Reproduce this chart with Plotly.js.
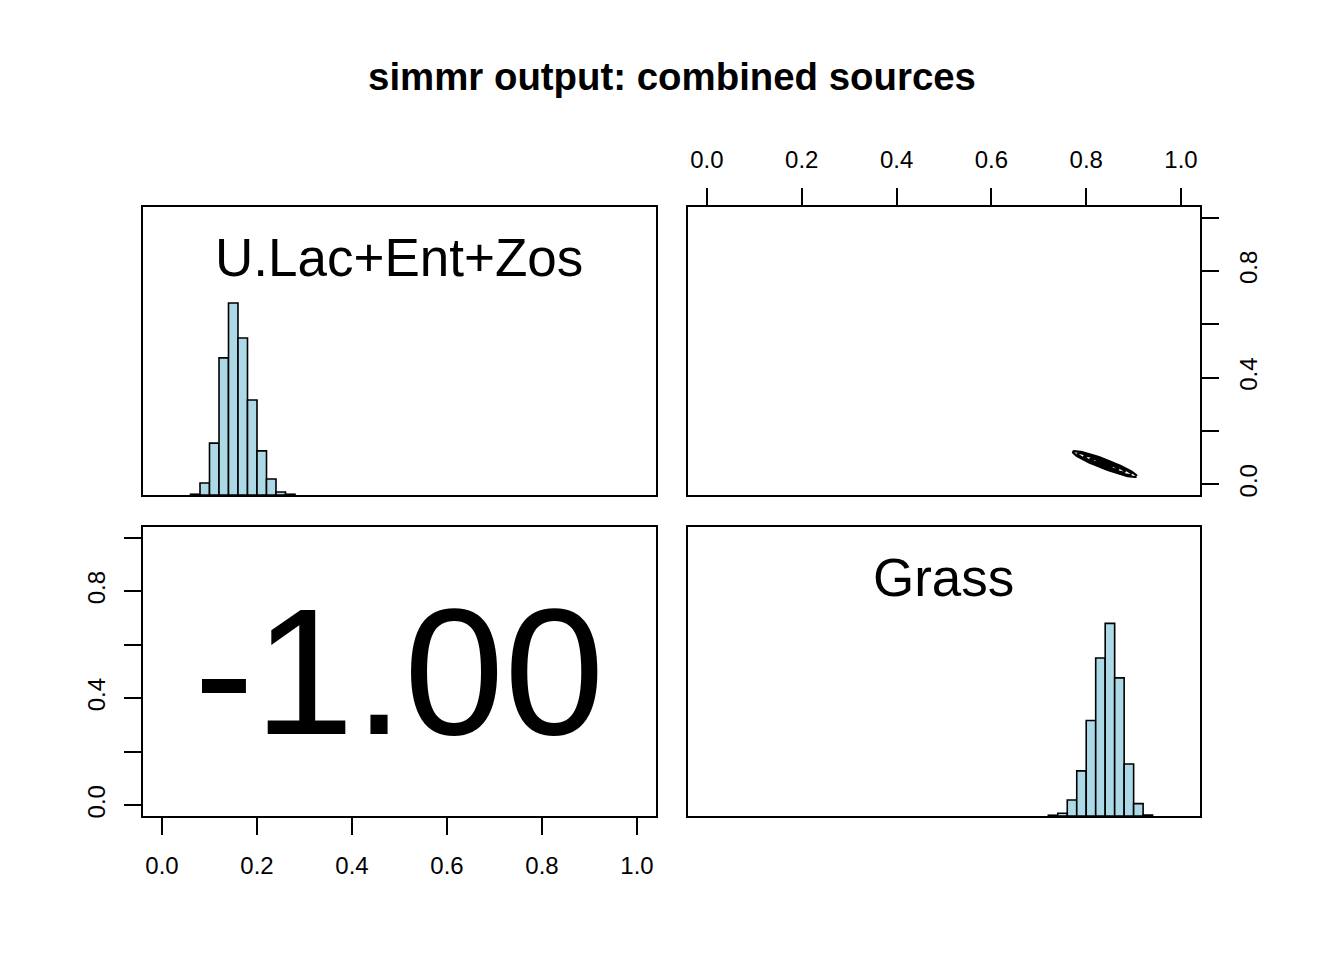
<!DOCTYPE html>
<html>
<head>
<meta charset="utf-8">
<script src="https://cdn.plot.ly/plotly-3.0.1.min.js"></script>
<style>html,body{margin:0;padding:0;background:#fff;}#chart{width:1344px;height:960px;}</style>
</head>
<body>
<div id="chart"></div>
<script>
// ---- data ----
const chartTitle = "simmr output: combined sources";
const sourceNames = ["U.Lac+Ent+Zos", "Grass"];
const correlationLabel = "-1.00";
const binWidth = 0.02;
// U.Lac+Ent+Zos histogram: left bin edges and heights relative to tallest bar
const ulacBinLeft = [0.06, 0.08, 0.10, 0.12, 0.14, 0.16, 0.18, 0.20, 0.22, 0.24, 0.26];
const ulacHeights = [0.004, 0.0625, 0.27, 0.714, 1.0, 0.818, 0.495, 0.23, 0.083, 0.016, 0.004];
// Grass histogram
const grassBinLeft = [0.72, 0.74, 0.76, 0.78, 0.80, 0.82, 0.84, 0.86, 0.88, 0.90, 0.92];
const grassHeights = [0.004, 0.014, 0.083, 0.234, 0.496, 0.82, 1.0, 0.717, 0.27, 0.064, 0.005];
// density contour (ellipses) in upper panel: centre, half-axis vectors, level scales
const contourCenter = [0.839, 0.076];
const contourMajor = [0.067, -0.046];
const contourMinor = [0.0035, 0.0157];
const contourScales = [1.0, 0.85, 0.65, 0.45, 0.25];
// axis ticks
const tickVals = [0, 0.2, 0.4, 0.6, 0.8, 1.0];
const xTickText = ["0.0", "0.2", "0.4", "0.6", "0.8", "1.0"];
const yTickText = ["0.0", "", "0.4", "", "0.8", ""];

// ---- build traces ----
const barFill = "#ADD8E6";
function centers(lefts) { return lefts.map(v => v + binWidth / 2); }
const traces = [];
traces.push({
  type: "bar", x: centers(ulacBinLeft), y: ulacHeights, width: binWidth,
  xaxis: "x", yaxis: "y",
  marker: {color: barFill, line: {color: "#000", width: 1.6}},
  hoverinfo: "skip", showlegend: false
});
traces.push({
  type: "bar", x: centers(grassBinLeft), y: grassHeights, width: binWidth,
  xaxis: "x4", yaxis: "y4",
  marker: {color: barFill, line: {color: "#000", width: 1.6}},
  hoverinfo: "skip", showlegend: false
});
contourScales.forEach(s => {
  const xs = [], ys = [];
  for (let i = 0; i <= 96; i++) {
    const t = 2 * Math.PI * i / 96;
    xs.push(contourCenter[0] + s * (contourMajor[0] * Math.cos(t) + contourMinor[0] * Math.sin(t)));
    ys.push(contourCenter[1] + s * (contourMajor[1] * Math.cos(t) + contourMinor[1] * Math.sin(t)));
  }
  traces.push({
    type: "scatter", mode: "lines", x: xs, y: ys, xaxis: "x2", yaxis: "y2",
    line: {color: "#000", width: 2.2}, hoverinfo: "skip", showlegend: false
  });
});
// empty trace so the lower-left (correlation) panel and its axes are drawn
traces.push({type: "scatter", mode: "markers", x: [null], y: [null], xaxis: "x3", yaxis: "y3",
  hoverinfo: "skip", showlegend: false});

// ---- layout ----
const W = 1344, H = 960;
const colL = [143 / W, 656 / W], colR = [688 / W, 1200 / W];
const rowT = [1 - 495 / H, 1 - 207 / H], rowB = [1 - 816 / H, 1 - 527 / H];
const fam = "Liberation Sans, Arial, Helvetica, sans-serif";
const tickFont = {family: fam, size: 24, color: "#000"};
const xr = [-0.04, 1.04];
function boxAxis(extra) {
  return Object.assign({
    showline: true, mirror: true, linecolor: "#000", linewidth: 2,
    showgrid: false, zeroline: false, ticks: "", showticklabels: false, fixedrange: true
  }, extra);
}
function tickAxis(extra) {
  return boxAxis(Object.assign({
    ticks: "outside", ticklen: 17, tickwidth: 2, tickcolor: "#000",
    showticklabels: true, tickmode: "array", tickvals: tickVals, tickfont: tickFont
  }, extra));
}
const layout = {
  width: W, height: H,
  margin: {l: 0, r: 0, t: 0, b: 0},
  paper_bgcolor: "#fff", plot_bgcolor: "#fff",
  showlegend: false,
  bargap: 0,
  title: {
    text: "<b>" + chartTitle + "</b>",
    font: {family: fam, size: 38.4, color: "#000"},
    x: 0.5, xanchor: "center", y: 1 - 77 / H, yanchor: "middle"
  },
  xaxis: boxAxis({domain: colL, range: xr, anchor: "y"}),
  yaxis: boxAxis({domain: rowT, range: [0, 1.5], anchor: "x"}),
  xaxis2: tickAxis({domain: colR, range: xr, anchor: "y2", side: "top", ticktext: xTickText, ticklabelstandoff: 10}),
  yaxis2: tickAxis({domain: rowT, range: xr, anchor: "x2", side: "right", ticktext: yTickText, tickangle: -90, ticklabelstandoff: 9}),
  xaxis3: tickAxis({domain: colL, range: xr, anchor: "y3", side: "bottom", ticktext: xTickText, ticklabelstandoff: 10}),
  yaxis3: tickAxis({domain: rowB, range: xr, anchor: "x3", side: "left", ticktext: yTickText, tickangle: -90, ticklabelstandoff: 9}),
  xaxis4: boxAxis({domain: colR, range: xr, anchor: "y4"}),
  yaxis4: boxAxis({domain: rowB, range: [0, 1.5], anchor: "x4"}),
  annotations: [
    {text: sourceNames[0], xref: "paper", yref: "paper", x: (colL[0] + colL[1]) / 2, y: 1 - 257 / H,
     xanchor: "center", yanchor: "middle", showarrow: false,
     font: {family: fam, size: 53, color: "#000"}},
    {text: sourceNames[1], xref: "paper", yref: "paper", x: (colR[0] + colR[1]) / 2, y: 1 - 577 / H,
     xanchor: "center", yanchor: "middle", showarrow: false,
     font: {family: fam, size: 53, color: "#000"}},
    {text: correlationLabel, xref: "paper", yref: "paper", x: (colL[0] + colL[1]) / 2, y: 1 - 671 / H,
     xanchor: "center", yanchor: "middle", showarrow: false,
     font: {family: fam, size: 180, color: "#000"}}
  ]
};
Plotly.newPlot("chart", traces, layout, {staticPlot: true, displayModeBar: false});
</script>
</body>
</html>
